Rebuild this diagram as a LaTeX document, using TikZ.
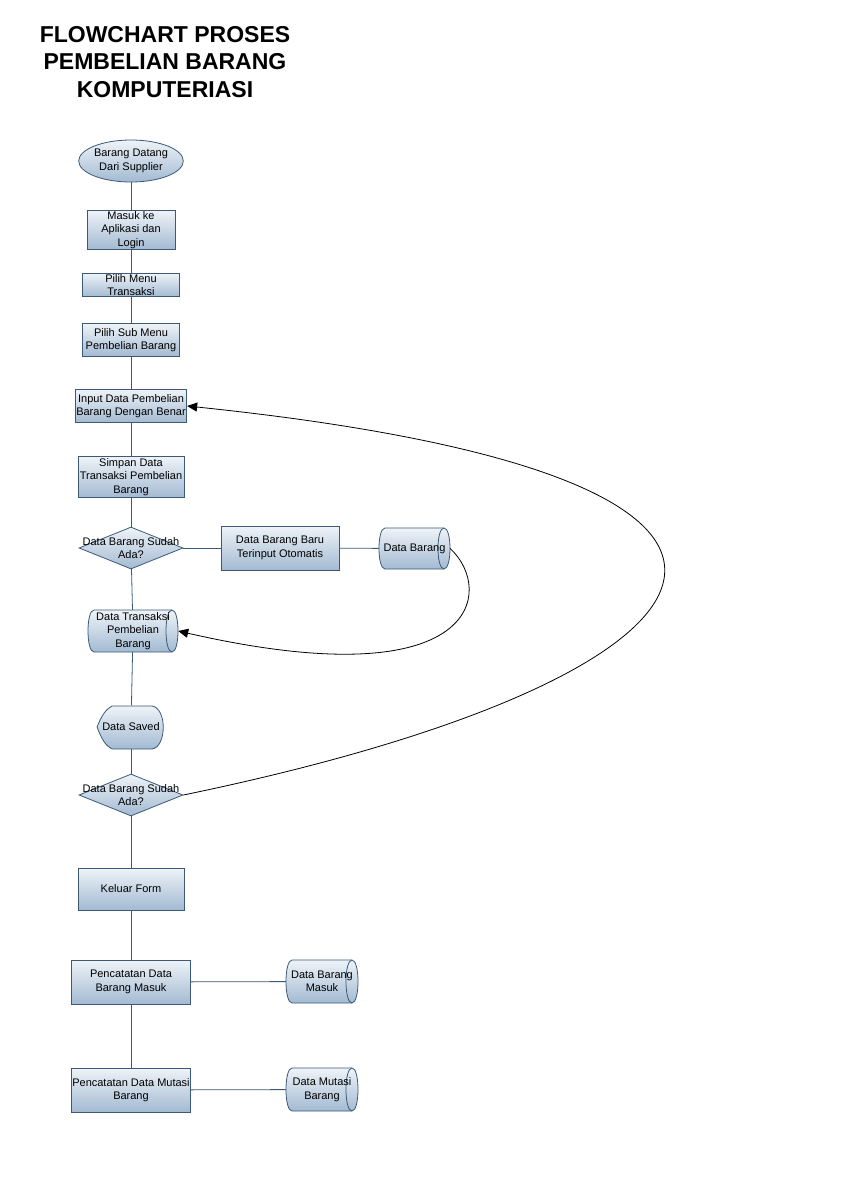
\documentclass[tikz,border=0pt]{standalone}
\usepackage{fontspec}
\setmainfont{Liberation Sans}
\usetikzlibrary{shapes.geometric,arrows.meta}
\definecolor{ln}{HTML}{3C5A78}
\definecolor{ftop}{HTML}{EEF3F8}
\definecolor{fbot}{HTML}{A3BAD2}
\tikzset{
 fl/.style={top color=ftop,bottom color=fbot,draw=ln,line width=0.8pt},
 box/.style={fl,rectangle,minimum width=#1,inner sep=1pt,align=center,font=\fontsize{11}{13.5}\selectfont},
 lab/.style={inner sep=0pt,align=center,font=\fontsize{11}{13.5}\selectfont},
 con/.style={draw=ln,line width=0.8pt},
 arr/.style={draw=black,line width=0.8pt,-{Triangle[length=10pt,width=9pt]}}
}
\newcommand\storage[6]{%
 \path[fl] (#2+6,#3) -- (#4-6,#3) .. controls (#4+2,#3) and (#4+2,#5) .. (#4-6,#5) -- (#2+6,#5) .. controls (#2-2,#5) and (#2-2,#3) .. (#2+6,#3) -- cycle;
 \draw[ln,line width=0.8pt] (#4-6,#3) .. controls (#4-14,#3) and (#4-14,#5) .. (#4-6,#5);
 \node[lab,minimum width=#4-#2,minimum height=#5-#3] (#1) at ({(#2+#4)/2},{(#3+#5)/2}) {#6};}
\newcommand\decision[4]{%
 \node[fl,shape=diamond,minimum width=104pt,minimum height=42pt,inner sep=0pt] (#1) at (#2,#3) {};
 \node[lab] (#1t) at (#2,#3) {#4};}
\begin{document}
\begin{tikzpicture}[x=1pt,y=-1pt]
\useasboundingbox[fill=white] (0,0) rectangle (841,1189);
\node[align=center,font=\bfseries\fontsize{23}{27.5}\selectfont] (title) at (165,62) {FLOWCHART PROSES\\PEMBELIAN BARANG\\KOMPUTERIASI};
\node[fl,ellipse,minimum width=96pt,minimum height=42pt,inner sep=0pt,align=center,font=\fontsize{11}{13.5}\selectfont] (start) at (131,161) {Barang Datang\\Dari Supplier};
\node[box=88pt,minimum height=34pt] (masuk) at (131,230) {Masuk ke\\Aplikasi dan\\Login};
\node[box=97pt,minimum height=22pt] (menu) at (131,285) {Pilih Menu\\Transaksi};
\node[box=97pt,minimum height=33pt] (sub) at (131,340) {Pilih Sub Menu\\Pembelian Barang};
\node[box=111pt,minimum height=33pt] (input) at (131,406) {Input Data Pembelian\\Barang Dengan Benar};
\node[box=106pt,minimum height=41pt] (simpan) at (131,477) {Simpan Data\\Transaksi Pembelian\\Barang};
\decision{d1}{131}{548}{Data Barang Sudah\\Ada?}
\node[box=118pt,minimum height=44pt] (baru) at (280,548) {Data Barang Baru\\Terinput Otomatis};
\storage{db}{379}{528}{450}{569}{Data Barang}
\storage{dt}{88}{610}{178}{652}{Data Transaksi\\Pembelian\\Barang}
\path[fl] (97,727) .. controls (102,715) and (106,709) .. (112,706) -- (152,706) .. controls (167,708) and (167,747) .. (152,749) -- (112,749) .. controls (106,746) and (102,740) .. (97,727) -- cycle;
\node[lab,minimum width=67pt,minimum height=43pt] (saved) at (131,727) {Data Saved};
\decision{d2}{131}{795}{Data Barang Sudah\\Ada?}
\node[box=106pt,minimum height=42pt] (keluar) at (131,889) {Keluar Form};
\node[box=119pt,minimum height=44pt] (catat) at (131,982) {Pencatatan Data\\Barang Masuk};
\storage{dbm}{286}{960}{358}{1003}{Data Barang\\Masuk}
\node[box=119pt,minimum height=44pt] (mutasi) at (131,1090) {Pencatatan Data Mutasi\\Barang};
\storage{dmb}{286}{1068}{358}{1111}{Data Mutasi\\Barang}
\draw[con] (start) -- (masuk);
\draw[con] (masuk) -- (menu);
\draw[con] (menu) -- (sub);
\draw[con] (sub) -- (input);
\draw[con] (input) -- (simpan);
\draw[con] (simpan) -- (d1);
\draw[con] (d1) -- (baru);
\draw[con] (baru) -- (db);
\draw[con] (d1) -- (dt);
\draw[con] (dt) -- (saved);
\draw[con] (saved) -- (d2);
\draw[con] (d2) -- (keluar);
\draw[con] (keluar) -- (catat);
\draw[con] (catat) -- (dbm);
\draw[con] (catat) -- (mutasi);
\draw[con] (mutasi) -- (dmb);
\draw[arr] (db.east) .. controls (495,590) and (480,700) .. (dt.east);
\draw[arr] (d2.east) .. controls (740,680) and (900,480) .. (input.east);
\end{tikzpicture}
\end{document}
